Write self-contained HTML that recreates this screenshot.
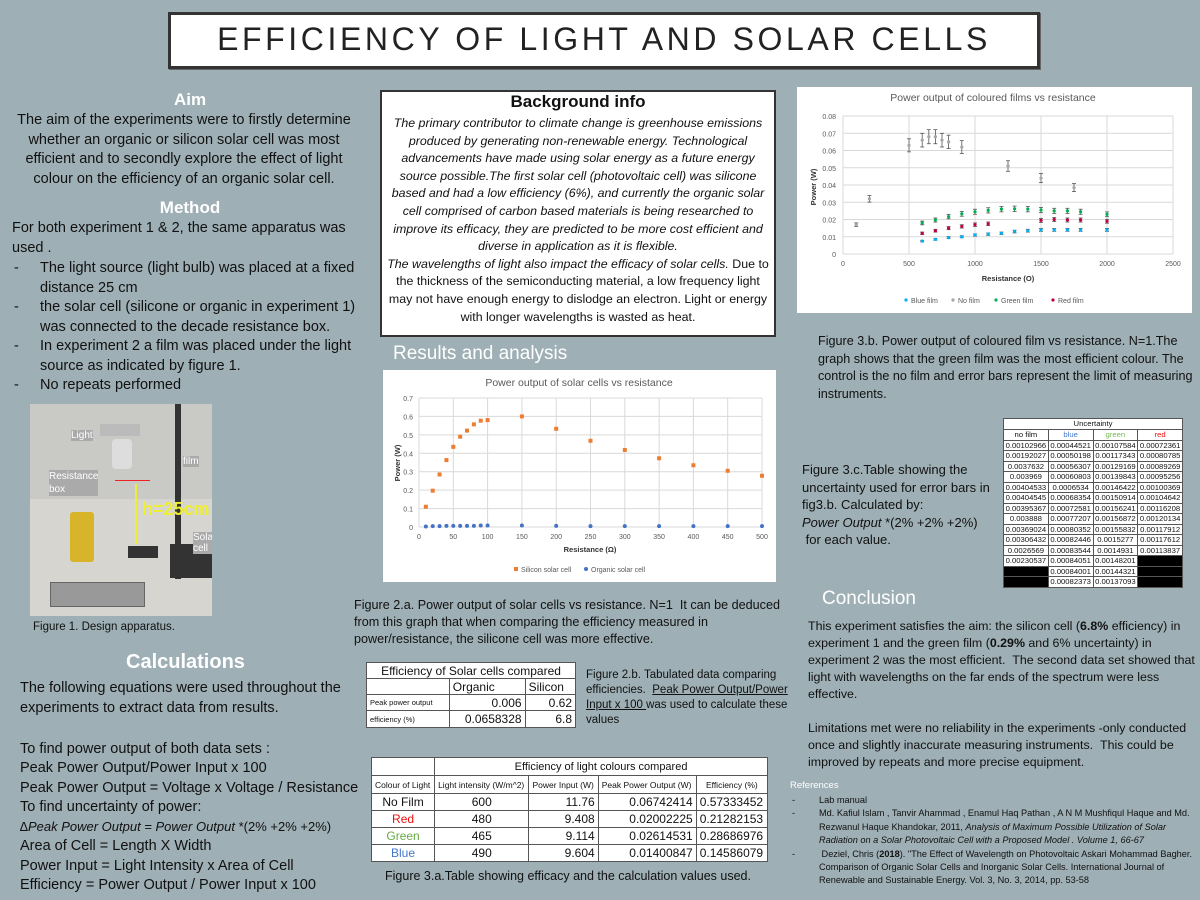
<!DOCTYPE html>
<html><head><meta charset="utf-8">
<style>
*{margin:0;padding:0;box-sizing:border-box}
body{width:1200px;height:900px;background:#9eafb5;font-family:"Liberation Sans",sans-serif;position:relative;overflow:hidden;color:#111}
.a{position:absolute}
.h{color:#fff;font-weight:bold}
.t{font-size:14.5px;line-height:19.5px}
table{border-collapse:collapse;background:#fff}
td{border:1px solid #555;padding:0 3px;white-space:nowrap}
</style></head><body>
<div class="a" style="left:168px;top:12px;width:872px;height:57px;background:#fff;border:3px solid #333;box-shadow:1px 1px 0 #666"></div>
<div class="a" style="left:168px;top:21px;width:872px;text-align:center;font-size:32px;letter-spacing:3.6px;color:#222">EFFICIENCY OF LIGHT AND SOLAR CELLS</div>

<div class="a h" style="left:140px;top:90px;width:100px;text-align:center;font-size:17px">Aim</div>
<div class="a t" style="left:4px;top:111px;width:360px;text-align:center">The aim of the experiments were to firstly determine whether an organic or silicon solar cell was most efficient and to secondly explore the effect of light colour on the efficiency of an organic solar cell.</div>
<div class="a h" style="left:130px;top:198px;width:120px;text-align:center;font-size:17px">Method</div>
<div class="a t" style="left:12px;top:219px;width:360px">For both experiment 1 &amp; 2, the same apparatus was used .</div>
<div class="a t" style="left:14px;top:259px;width:352px">
<div style="position:relative;padding-left:26px"><span style="position:absolute;left:0">-</span>The light source (light bulb) was placed at a fixed distance 25 cm</div>
<div style="position:relative;padding-left:26px"><span style="position:absolute;left:0">-</span>the solar cell (silicone or organic in experiment 1) was connected to the decade resistance box.</div>
<div style="position:relative;padding-left:26px"><span style="position:absolute;left:0">-</span>In experiment 2 a film was placed under the light source as indicated by figure 1.</div>
<div style="position:relative;padding-left:26px"><span style="position:absolute;left:0">-</span>No repeats performed</div>
</div>

<!-- photo -->
<div class="a" style="left:30px;top:404px;width:182px;height:212px;background:#c9c9c6;overflow:hidden">
<div class="a" style="left:0;top:95px;width:182px;height:117px;background:#d6d5d0"></div>
<div class="a" style="left:145px;top:0;width:6px;height:175px;background:#333"></div>
<div class="a" style="left:140px;top:140px;width:42px;height:34px;background:#333"></div>
<div class="a" style="left:70px;top:20px;width:40px;height:12px;background:#bbb"></div>
<div class="a" style="left:82px;top:35px;width:20px;height:30px;background:#ddd;border-radius:4px"></div>
<div class="a" style="left:40px;top:108px;width:24px;height:50px;background:#d8b42a;border-radius:3px"></div>
<div class="a" style="left:20px;top:178px;width:95px;height:25px;background:#999;border:1px solid #666"></div>
<div class="a" style="left:105px;top:80px;width:2px;height:60px;background:#ee3"></div>
<div class="a" style="left:112px;top:95px;font-size:18px;color:#ee3;font-weight:bold">h=25cm</div>
<div class="a" style="left:85px;top:76px;width:35px;height:1px;background:#e22"></div>
<div class="a" style="left:98px;top:142px;width:30px;height:12px;background:#333"></div>
<div class="a" style="left:41px;top:26px;font-size:10px;color:#fff;background:#aaa">Light</div>
<div class="a" style="left:153px;top:52px;font-size:10px;color:#fff;background:#aaa">film</div>
<div class="a" style="left:19px;top:66px;font-size:10px;color:#fff;background:#aaa;line-height:13px">Resistance<br>box</div>
<div class="a" style="left:163px;top:128px;font-size:10px;color:#fff;background:#aaa">Solar cell</div>
</div>
<div class="a" style="left:33px;top:621px;font-size:11.5px">Figure 1. Design apparatus.</div>

<div class="a h" style="left:126px;top:651px;font-size:20px">Calculations</div>
<div class="a t" style="left:20px;top:679px;width:340px">The following equations were used throughout the experiments to extract data from results.</div>
<div class="a t" style="left:20px;top:740px;width:350px;line-height:19.3px">To find power output of both data sets :<br>Peak Power Output/Power Input x 100<br>Peak Power Output = Voltage x Voltage / Resistance<br>To find uncertainty of power:<br><span style="font-size:13px"><i>∆Peak Power Output = Power Output</i> *(2% +2% +2%)</span><br>Area of Cell = Length X Width<br>Power Input = Light Intensity x Area of Cell<br>Efficiency = Power Output / Power Input x 100</div>

<!-- background -->
<div class="a" style="left:380px;top:90px;width:396px;height:247px;background:#fff;border:2px solid #333"></div>
<div class="a" style="left:380px;top:92px;width:396px;text-align:center;font-weight:bold;font-size:17px">Background info</div>
<div class="a" style="left:386px;top:115px;width:384px;text-align:center;font-size:12.4px;line-height:17.6px"><i>The primary contributor to climate change is greenhouse emissions produced by generating non-renewable energy. Technological advancements have made using solar energy as a future energy source possible.The first solar cell (photovoltaic cell) was silicone based and had a low efficiency (6%), and currently the organic solar cell comprised of carbon based materials is being researched to improve its efficacy, they are predicted to be more cost efficient and diverse in application as it is flexible.<br>The wavelengths of light also impact the efficacy of solar cells.</i> Due to the thickness of the semiconducting material, a low frequency light may not have enough energy to dislodge an electron. Light or energy with longer wavelengths is wasted as heat.</div>

<div class="a" style="left:393px;top:343px;font-size:19px;color:#fff">Results and analysis</div>

<svg class="a" id="c2" style="left:383px;top:370px" width="393" height="212"></svg>
<svg class="a" id="c1" style="left:797px;top:87px" width="395" height="226"></svg>

<div class="a" style="left:354px;top:597px;width:450px;font-size:12.6px;line-height:17px">Figure 2.a. Power output of solar cells vs resistance. N=1 &nbsp;It can be deduced from this graph that when comparing the efficiency measured in power/resistance, the silicone cell was more effective.</div>

<table class="a" style="left:366px;top:662px;width:210px;font-size:12px">
<tr style="height:16px"><td colspan="3" style="text-align:center">Efficiency of Solar cells compared</td></tr>
<tr style="height:16px"><td></td><td>Organic</td><td>Silicon</td></tr>
<tr style="height:16px"><td style="font-size:7.5px">Peak power output</td><td style="text-align:right">0.006</td><td style="text-align:right">0.62</td></tr>
<tr style="height:17px"><td style="font-size:7.5px">efficiency (%)</td><td style="text-align:right">0.0658328</td><td style="text-align:right">6.8</td></tr>
</table>
<div class="a" style="left:586px;top:668px;width:210px;font-size:11.5px;line-height:15px">Figure 2.b. Tabulated data comparing efficiencies. &nbsp;<u>Peak Power Output/Power Input x 100 </u>was used to calculate these values</div>

<table class="a" style="left:371px;top:757px;width:397px;font-size:12px">
<tr style="height:18px"><td></td><td colspan="4" style="text-align:center;font-size:11px">Efficiency of light colours compared</td></tr>
<tr style="height:18px;font-size:8.5px"><td>Colour of Light</td><td>Light intensity (W/m^2)</td><td>Power Input (W)</td><td>Peak Power Output (W)</td><td style="text-align:center">Efficiency (%)</td></tr>
<tr style="height:17px"><td style="text-align:center">No Film</td><td style="text-align:center">600</td><td style="text-align:right">11.76</td><td style="text-align:right">0.06742414</td><td>0.57333452</td></tr>
<tr style="height:17px"><td style="text-align:center;color:#e11">Red</td><td style="text-align:center">480</td><td style="text-align:right">9.408</td><td style="text-align:right">0.02002225</td><td>0.21282153</td></tr>
<tr style="height:17px"><td style="text-align:center;color:#6a4">Green</td><td style="text-align:center">465</td><td style="text-align:right">9.114</td><td style="text-align:right">0.02614531</td><td>0.28686976</td></tr>
<tr style="height:17px"><td style="text-align:center;color:#47c">Blue</td><td style="text-align:center">490</td><td style="text-align:right">9.604</td><td style="text-align:right">0.01400847</td><td>0.14586079</td></tr>
</table>
<div class="a" style="left:385px;top:869px;font-size:12.5px">Figure 3.a.Table showing efficacy and the calculation values used.</div>

<div class="a" style="left:818px;top:333px;width:378px;font-size:12.6px;line-height:17.5px">Figure 3.b. Power output of coloured film vs resistance. N=1.The graph shows that the green film was the most efficient colour. The control is the no film and error bars represent the limit of measuring instruments.</div>

<div class="a" style="left:802px;top:461px;width:200px;font-size:13px;line-height:17.5px">Figure 3.c.Table showing the uncertainty used for error bars in fig3.b. Calculated by:<br><i>Power Output</i> *(2% +2% +2%)<br>&nbsp;for each value.</div>

<table class="a" id="ut" style="left:1003px;top:418px;width:180px;font-size:7.7px;text-align:center"></table>

<div class="a" style="left:822px;top:588px;font-size:19px;color:#fff">Conclusion</div>
<div class="a" style="left:808px;top:618px;width:390px;font-size:12.4px;line-height:17px">This experiment satisfies the aim: the silicon cell (<b>6.8%</b> efficiency) in experiment 1 and the green film (<b>0.29%</b> and 6% uncertainty) in experiment 2 was the most efficient. &nbsp;The second data set showed that light with wavelengths on the far ends of the spectrum were less effective.<br><br>Limitations met were no reliability in the experiments -only conducted once and slightly inaccurate measuring instruments. &nbsp;This could be improved by repeats and more precise equipment.</div>

<div class="a" style="left:790px;top:780px;font-size:9.5px;color:#fff">References</div>
<div class="a" style="left:792px;top:794px;width:405px;font-size:9.2px;line-height:13.4px">
<div style="position:relative;padding-left:27px"><span style="position:absolute;left:0">-</span>Lab manual</div>
<div style="position:relative;padding-left:27px"><span style="position:absolute;left:0">-</span>Md. Kafiul Islam , Tanvir Ahammad , Enamul Haq Pathan , A N M Mushfiqul Haque and Md. Rezwanul Haque Khandokar, 2011, <i>Analysis of Maximum Possible Utilization of Solar Radiation on a Solar Photovoltaic Cell with a Proposed Model . Volume 1, 66-67</i></div>
<div style="position:relative;padding-left:27px"><span style="position:absolute;left:0">-</span>&nbsp;Deziel, Chris (<b>2018</b>). "The Effect of Wavelength on Photovoltaic Askari Mohammad Bagher. Comparison of Organic Solar Cells and Inorganic Solar Cells. International Journal of Renewable and Sustainable Energy. Vol. 3, No. 3, 2014, pp. 53-58</div>
</div>

<script>
var NS="http://www.w3.org/2000/svg";
function el(s,t,a,txt){var e=document.createElementNS(NS,t);for(var k in a)e.setAttribute(k,a[k]);if(txt!==undefined)e.textContent=txt;s.appendChild(e);return e;}
(function(){var s=document.getElementById('c2');el(s,'rect',{x:0,y:0,width:393,height:212,fill:'#fff'});
var x0=36,x1=379,y0=157,y1=28;function X(v){return x0+(x1-x0)*v/500}function Y(v){return y0-(y0-y1)*v/0.7}
for(var i=0;i<=7;i++){var y=Y(i/10);el(s,'line',{x1:x0,x2:x1,y1:y,y2:y,stroke:'#d9d9d9','stroke-width':1});el(s,'text',{x:x0-6,y:y+3,'font-size':7,'text-anchor':'end',fill:'#595959'},(i/10).toString());}
for(var i=0;i<=10;i++){var v=i*50;var x=X(v);el(s,'line',{x1:x,x2:x,y1:y0,y2:y1,stroke:'#d9d9d9'});el(s,'text',{x:x,y:y0+12,'font-size':7,'text-anchor':'middle',fill:'#595959'},v);}
el(s,'text',{x:196,y:16,'font-size':10.5,'text-anchor':'middle',fill:'#595959'},'Power output of solar cells vs resistance');
el(s,'text',{x:207,y:182,'font-size':7.5,'text-anchor':'middle','font-weight':'bold',fill:'#333'},'Resistance (Ω)');
el(s,'text',{x:17,y:93,'font-size':7.5,'text-anchor':'middle','font-weight':'bold',fill:'#333',transform:'rotate(-90 17 93)'},'Power (W)');
var xs=[10,20,30,40,50,60,70,80,90,100,150,200,250,300,350,400,450,500];
var si=[0.11,0.197,0.285,0.363,0.435,0.49,0.523,0.557,0.577,0.58,0.6,0.533,0.468,0.418,0.373,0.335,0.305,0.278];
var og=[0.003,0.005,0.005,0.006,0.006,0.006,0.006,0.006,0.008,0.008,0.008,0.006,0.005,0.005,0.005,0.005,0.005,0.005];
xs.forEach(function(v,i){el(s,'rect',{x:X(v)-2,y:Y(si[i])-2,width:4,height:4,fill:'#ed7d31'});el(s,'circle',{cx:X(v),cy:Y(og[i]),r:2,fill:'#4472c4'});});
el(s,'rect',{x:131,y:197,width:4,height:4,fill:'#ed7d31'});el(s,'text',{x:138,y:202,'font-size':7,fill:'#595959'},'Silicon solar cell');
el(s,'circle',{cx:203,cy:199,r:2,fill:'#4472c4'});el(s,'text',{x:208,y:202,'font-size':7,fill:'#595959'},'Organic solar cell');
})();
(function(){var s=document.getElementById('c1');el(s,'rect',{x:0,y:0,width:395,height:226,fill:'#fff'});
var x0=46,x1=376,y0=167,y1=29;function X(v){return x0+(x1-x0)*v/2500}function Y(v){return y0-(y0-y1)*v/0.08}
for(var i=0;i<=8;i++){var y=Y(i/100);el(s,'line',{x1:x0,x2:x1,y1:y,y2:y,stroke:'#d9d9d9'});el(s,'text',{x:x0-7,y:y+3,'font-size':7,'text-anchor':'end',fill:'#595959'},i==0?'0':(i/100).toFixed(2));}
for(var i=0;i<=5;i++){var v=i*500;var x=X(v);el(s,'line',{x1:x,x2:x,y1:y0,y2:y1,stroke:'#d9d9d9'});el(s,'text',{x:x,y:y0+12,'font-size':7,'text-anchor':'middle',fill:'#595959'},v);}
el(s,'text',{x:196,y:14,'font-size':10.5,'text-anchor':'middle',fill:'#595959'},'Power output of coloured films vs resistance');
el(s,'text',{x:211,y:194,'font-size':7.5,'text-anchor':'middle','font-weight':'bold',fill:'#333'},'Resistance (O)');
el(s,'text',{x:19,y:100,'font-size':7.5,'text-anchor':'middle','font-weight':'bold',fill:'#333',transform:'rotate(-90 19 100)'},'Power (W)');
function ser(d,c,e){d.forEach(function(p){var x=X(p[0]),y=Y(p[1]),h=(y0-y1)*p[1]*e/0.08;el(s,'line',{x1:x,x2:x,y1:y-h,y2:y+h,stroke:'#555','stroke-width':0.8});el(s,'line',{x1:x-2,x2:x+2,y1:y-h,y2:y-h,stroke:'#555','stroke-width':0.8});el(s,'line',{x1:x-2,x2:x+2,y1:y+h,y2:y+h,stroke:'#555','stroke-width':0.8});el(s,'circle',{cx:x,cy:y,r:1.6,fill:c});});}
ser([[100,.017],[200,.032],[500,.063],[600,.066],[650,.068],[700,.068],[750,.066],[800,.065],[900,.062],[1250,.051],[1500,.044],[1750,.0385]],'#a5a5a5',0.06);
ser([[600,.018],[700,.0197],[800,.0217],[900,.0233],[1000,.0245],[1100,.0253],[1200,.026],[1300,.0262],[1400,.026],[1500,.0255],[1600,.025],[1700,.025],[1800,.0245],[2000,.023]],'#00b050',0.06);
ser([[600,.012],[700,.0135],[800,.015],[900,.016],[1000,.017],[1100,.0175],[1500,.0195],[1600,.02],[1700,.0197],[1800,.0197],[2000,.019]],'#c00040',0.06);
ser([[600,.0075],[700,.0085],[800,.0095],[900,.01],[1000,.011],[1100,.0115],[1200,.012],[1300,.013],[1400,.0135],[1500,.014],[1600,.014],[1700,.014],[1800,.014],[2000,.014]],'#00b0f0',0.06);
var lg=[['Blue film','#00b0f0',109],['No film','#a5a5a5',156],['Green film','#00b050',199],['Red film','#c00040',256]];
lg.forEach(function(l){el(s,'circle',{cx:l[2],cy:213,r:1.6,fill:l[1]});el(s,'text',{x:l[2]+5,y:216,'font-size':7,fill:'#595959'},l[0]);});
})();
(function(){var t=document.getElementById('ut');
var nf=['0.00102966','0.00192027','0.0037632','0.003969','0.00404533','0.00404545','0.00395367','0.003888','0.00369024','0.00306432','0.0026569','0.00230537','',''];
var b=['0.00044521','0.00050198','0.00056307','0.00060803','0.0006534','0.00068354','0.00072581','0.00077207','0.00080352','0.00082446','0.00083544','0.00084051','0.00084001','0.00082373'];
var g=['0.00107584','0.00117343','0.00129169','0.00139843','0.00146422','0.00150914','0.00156241','0.00156872','0.00155832','0.0015277','0.0014931','0.00148201','0.00144321','0.00137093'];
var r=['0.00072361','0.00080785','0.00089269','0.00095256','0.00100369','0.00104642','0.00116208','0.00120134','0.00117912','0.00117612','0.00113837','','',''];
var h='<tr style="height:11px"><td colspan="4">Uncertainty</td></tr><tr style="height:10.7px"><td>no film</td><td style="color:#47c">blue</td><td style="color:#7b5">green</td><td style="color:#e11">red</td></tr>';
for(var i=0;i<14;i++){h+='<tr style="height:10.5px"><td'+(nf[i]?'':' style="background:#000"')+'>'+nf[i]+'</td><td>'+b[i]+'</td><td>'+g[i]+'</td><td'+(r[i]?'':' style="background:#000"')+'>'+r[i]+'</td></tr>';}
t.innerHTML=h;t.querySelectorAll('td').forEach(function(d){d.style.padding='0 1px';d.style.lineHeight='9.5px';});})();
</script>
</body></html>
